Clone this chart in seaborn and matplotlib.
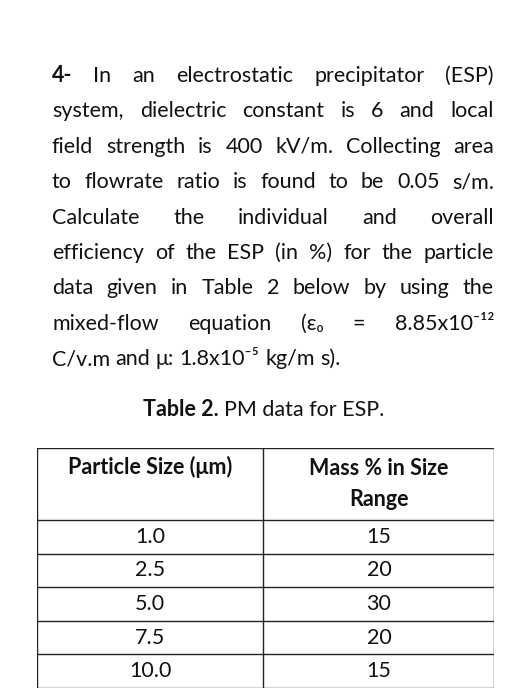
import matplotlib
matplotlib.use("Agg")
import matplotlib.pyplot as plt
import seaborn as sns

sns.set_theme(style="white")
plt.rcParams["font.family"] = ["Lato", "DejaVu Sans"]

# ================================
# TEXT + TABLE DATA
# ================================
lines = [
    "4- In an electrostatic precipitator (ESP)",
    "system, dielectric constant is 6 and local",
    "field strength is 400 kV/m. Collecting area",
    "to flowrate ratio is found to be 0.05 s/m.",
    "Calculate the individual and overall",
    "efficiency of the ESP (in %) for the particle",
    "data given in Table 2 below by using the",
    "mixed-flow equation (ε₀ = 8.85x10⁻¹²",
    "C/v.m and μ: 1.8x10⁻⁵ kg/m s).",
]
headers = ["Particle Size (μm)", "Mass % in Size\nRange"]
sizes = ["1.0", "2.5", "5.0", "7.5", "10.0"]
mass = [15, 20, 30, 20, 15]

W, H = 528, 700
fig = plt.figure(figsize=(W / 100, H / 100), dpi=100)
fig.patch.set_facecolor("white")
fs = 15.5
col = "#111111"

def px(x, y):
    return x / W, 1 - y / H

renderer = fig.canvas.get_renderer()

def width(t):
    return t.get_window_extent(renderer).width

# space width
a1 = fig.text(0, 0, "a a", fontsize=fs)
a2 = fig.text(0, 0, "aa", fontsize=fs)
space = width(a1) - width(a2)
a1.remove()
a2.remove()

# paragraph, justified except last line
x0, x1 = 52, 494
y_first, dy = 76, 35.4
for i, line in enumerate(lines):
    y = y_first + i * dy
    words = line.split(" ")
    objs = [fig.text(*px(x0, y), w, fontsize=fs, va="center", ha="left",
                     fontweight="bold" if (i == 0 and k == 0) else "normal",
                     color=col) for k, w in enumerate(words)]
    widths = [width(t) for t in objs]
    if i < len(lines) - 1 and len(words) > 1:
        gap = (x1 - x0 - sum(widths)) / (len(words) - 1)
    else:
        gap = space
    x = x0
    for t, wd in zip(objs, widths):
        t.set_position(px(x, y))
        x += wd + gap

# caption
c1 = fig.text(0, 0, "Table 2.", fontsize=fs, fontweight="bold", color=col, va="center")
c2 = fig.text(0, 0, "PM data for ESP.", fontsize=fs, color=col, va="center")
total = width(c1) + space + width(c2)
cx = 264 - total / 2
c1.set_position(px(cx, 410))
c2.set_position(px(cx + width(c1) + space, 410))

# ================================
# TABLE
# ================================
ax = fig.add_axes([37 / W, 1 - 688 / H, (494 - 37) / W, (688 - 448) / H])
ax.set_xlim(37, 494)
ax.set_ylim(688, 448)
ax.axis("off")
row_h = (688 - 520) / len(sizes)
edges = [448, 520] + [520 + row_h * (k + 1) for k in range(len(sizes))]
for e in edges:
    ax.axhline(e, color="#222222", lw=1)
for xv in (37, 263, 494):
    ax.axvline(xv, color="#222222", lw=1)
ax.text(150, 467, headers[0], fontsize=fs, fontweight="bold", ha="center", va="center", color=col)
ax.text(379, 484, headers[1], fontsize=fs, fontweight="bold", ha="center", va="center",
        linespacing=1.6, color=col)
for k, (s, m) in enumerate(zip(sizes, mass)):
    yc = 520 + row_h * (k + 0.5)
    ax.text(150, yc, s, fontsize=fs, ha="center", va="center", color=col)
    ax.text(379, yc, str(m), fontsize=fs, ha="center", va="center", color=col)

fig.savefig("out.png", dpi=100, facecolor="white")
